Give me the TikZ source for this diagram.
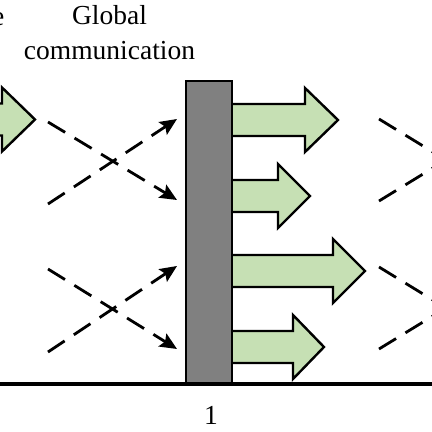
\documentclass[tikz,border=0pt]{standalone}
\usepackage{fontspec}
\setmainfont{Liberation Serif}
\usetikzlibrary{arrows.meta}
\definecolor{arrowgreen}{RGB}{198,224,180}
\definecolor{bargray}{RGB}{128,128,128}

\begin{document}
\begin{tikzpicture}[x=1pt, y=-1pt,
    dashlink/.style={line width=2.8pt, dash pattern=on 20pt off 11pt, -{Stealth[length=17pt,width=15pt,inset=3pt]}},
    flow/.style={draw=black, line width=2.4pt, fill=arrowgreen, line join=miter},
    textlabel/.style={font=\fontsize{27.5}{35}\selectfont, inner sep=0pt}]
    % Fix the frame and cut everything off at its edges
    \useasboundingbox (0,0) rectangle (432,432);
    \clip (0,0) rectangle (432,432);
    % Labels
    \node[textlabel, anchor=base east] (prev) at (4.5,25) {e};
    \node[textlabel, align=center] (global) at (109.5,33) {Global\\communication};
    \node[textlabel, anchor=base] (step) at (211,424) {1};
    % Incoming block arrow on the left (cut off by the frame)
    \draw[flow] (-40,103.5) -- (2,103.5) -- (2,87.5) -- (35,119.5) -- (2,151.5) -- (2,135.5) -- (-40,135.5) -- cycle;
    % Points for the crossing dashed links
    \coordinate (a1) at (48,122);  \coordinate (b1) at (177,200);
    \coordinate (a2) at (48,204);  \coordinate (b2) at (177,119);
    \coordinate (a3) at (48,269);  \coordinate (b3) at (177,349);
    \coordinate (a4) at (48,352);  \coordinate (b4) at (177,266);
    \coordinate (c1) at (379,119); \coordinate (d1) at (508,198);
    \coordinate (c2) at (379,201); \coordinate (d2) at (508,122);
    \coordinate (c3) at (379,267); \coordinate (d3) at (508,346);
    \coordinate (c4) at (379,349); \coordinate (d4) at (508,270);
    % Draw the dashed links
    \foreach \i in {1,...,4} {
        \draw[dashlink] (a\i) -- (b\i);
        \draw[dashlink] (c\i) -- (d\i);
    }
    % Outgoing block arrows (centre, head back, tip)
    \foreach \yc/\hx/\tx in {120/305/338, 196/278/310, 271/333/365, 347/293/324} {
        \draw[flow] (226,\yc-16) -- (\hx,\yc-16) -- (\hx,\yc-32) -- (\tx,\yc)
            -- (\hx,\yc+32) -- (\hx,\yc+16) -- (226,\yc+16) -- cycle;
    }
    % Gray bar
    \draw[fill=bargray, line width=1.2pt] (186,81) rectangle (232,384);
    % Base line
    \draw[line width=4pt] (-10,384) -- (442,384);
\end{tikzpicture}
\end{document}
